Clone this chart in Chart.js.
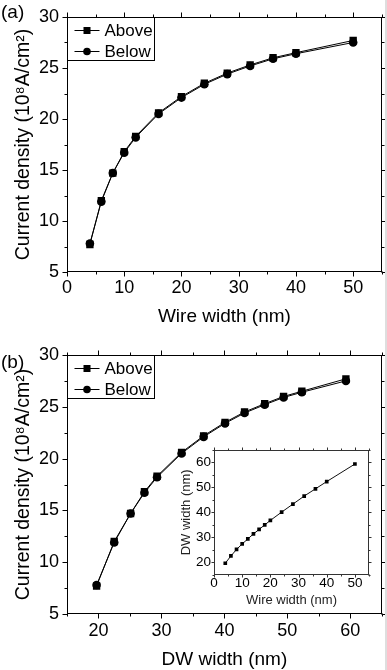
<!DOCTYPE html>
<html>
<head>
<meta charset="utf-8">
<script src="https://cdn.jsdelivr.net/npm/chart.js@4"></script>
<style>
  html, body { margin: 0; padding: 0; background: #fff; }
  #wrap { position: relative; width: 387px; height: 670px; overflow: hidden; font-family: "Liberation Sans", Arial, sans-serif; }
  .panel { position: absolute; left: 0; width: 387px; height: 335px; }
  #panelA { top: 0; }
  #panelB { top: 335px; }
  #insetBox { position: absolute; left: 172px; top: 440px; width: 205px; height: 170px; }
  .tag { position: absolute; left: 1px; font-size: 19px; line-height: 19px; color: #000; }
  #edge { position: absolute; right: 0; top: 0; width: 2px; height: 670px; background: #dedede; }
</style>
</head>
<body>
<div id="wrap">
  <div class="panel" id="panelA"><canvas id="chartA"></canvas></div>
  <div class="panel" id="panelB"><canvas id="chartB"></canvas></div>
  <div id="insetBox"><canvas id="chartInset"></canvas></div>
  <div class="tag" style="top:2px">(a)</div>
  <div class="tag" style="top:352px">(b)</div>
  <div id="edge"></div>
</div>
<script>
// wire width (nm) and matching domain-wall width (nm)
const wireWidth = [4, 6, 8, 10, 12, 16, 20, 24, 28, 32, 36, 40, 50];
const dwWidth = [19.7, 22.5, 25.1, 27.3, 29.3, 33.2, 36.7, 40.1, 43.2, 46.4, 49.4, 52.3, 59.3];
// critical current density (10^8 A/cm^2)
const jAbove = [7.7, 12.0, 14.7, 16.8, 18.3, 20.6, 22.2, 23.5, 24.5, 25.3, 26.0, 26.5, 27.7];
const jBelow = [7.8, 11.9, 14.7, 16.7, 18.2, 20.5, 22.1, 23.4, 24.4, 25.2, 25.9, 26.4, 27.5];
// inset: DW width vs wire width
const insetWire = [4, 6, 8, 10, 12, 14, 16, 18, 20, 24, 28, 32, 36, 40, 50];
const insetDW = [19.7, 22.6, 25.2, 27.4, 29.4, 31.4, 33.2, 35.0, 36.8, 40.1, 43.3, 46.5, 49.4, 52.3, 59.3];
// tick labels
const xTicksA = [0, 10, 20, 30, 40, 50];
const xTicksB = [20, 30, 40, 50, 60];
const yTicksJ = [5, 10, 15, 20, 25, 30];
const insetXTicks = [0, 10, 20, 30, 40, 50];
const insetYTicks = [20, 30, 40, 50, 60];

const FONT = '"Liberation Sans", Arial, sans-serif';

function pts(xs, ys) {
    return xs.map((x, i) => ({ x: x, y: ys[i] }));
}

function minorsOf(scale) {
    const majors = scale.ticks.map(t => t.value);
    const step = majors[1] - majors[0];
    const out = [];
    for (let v = majors[0] - step / 2; v <= scale.max + 1e-9; v += step) {
        if (v >= scale.min - 1e-9) out.push(v);
    }
    return out;
}

// frame box, outward ticks on all four sides, and the boxed legend
const boxTicks = {
    id: 'boxTicks',
    afterDraw(chart, args, opts) {
        const { ctx, chartArea: a, scales } = chart;
        const sx = scales.x, sy = scales.y;
        const L = Math.round(a.left) + 0.5, R = Math.round(a.right) - 0.5;
        const T = Math.round(a.top) + 0.5, B = Math.round(a.bottom) - 0.5;
        ctx.save();
        ctx.strokeStyle = opts.color;
        ctx.lineWidth = 1;
        ctx.strokeRect(L, T, R - L, B - T);
        ctx.beginPath();
        const xMarks = (vals, len) => vals.forEach(v => {
            const p = Math.round(sx.getPixelForValue(v)) + 0.5;
            ctx.moveTo(p, B); ctx.lineTo(p, B + len);
            ctx.moveTo(p, T); ctx.lineTo(p, T - len);
        });
        const yMarks = (vals, len) => vals.forEach(v => {
            const p = Math.round(sy.getPixelForValue(v)) + 0.5;
            ctx.moveTo(L, p); ctx.lineTo(L - len, p);
            ctx.moveTo(R, p); ctx.lineTo(R + len, p);
        });
        xMarks(sx.ticks.map(t => t.value), opts.major);
        xMarks(minorsOf(sx), opts.minor);
        yMarks(sy.ticks.map(t => t.value), opts.major);
        yMarks(minorsOf(sy), opts.minor);
        ctx.stroke();

        if (opts.legend) {
            const lg = opts.legend;
            const x0 = L, y0 = T;
            ctx.fillStyle = '#fff';
            ctx.fillRect(x0, y0, lg.w, lg.h);
            ctx.strokeRect(x0, y0, lg.w, lg.h);
            ctx.font = lg.fontSize + 'px ' + FONT;
            ctx.textBaseline = 'middle';
            chart.data.datasets.forEach((ds, i) => {
                const yy = y0 + lg.rows[i];
                ctx.strokeStyle = '#000';
                ctx.beginPath();
                ctx.moveTo(x0 + 7, yy); ctx.lineTo(x0 + 32, yy);
                ctx.stroke();
                ctx.fillStyle = '#000';
                if (ds.pointStyle === 'rect') {
                    ctx.fillRect(x0 + 16, yy - 3.5, 7, 7);
                } else {
                    ctx.beginPath();
                    ctx.arc(x0 + 19.5, yy, 3.8, 0, Math.PI * 2);
                    ctx.fill();
                }
                ctx.fillText(ds.label, x0 + 37, yy + 1);
            });
        }
        ctx.restore();
    }
};

function axis(min, max, values, fontSize, pad, extra) {
    return Object.assign({
        type: 'linear',
        min: min,
        max: max,
        grid: { display: false, drawTicks: false },
        border: { display: false },
        ticks: { font: { family: FONT, size: fontSize, lineHeight: 1 }, color: '#000', padding: pad, maxRotation: 0, autoSkip: false },
        afterBuildTicks: s => { s.ticks = values.map(v => ({ value: v })); }
    }, extra);
}

function mainChart(id, xs, xMin, xMax, xTicks, xTitle, xAxisH, xLabelPad, xTitlePad, top) {
    return new Chart(document.getElementById(id), {
        type: 'line',
        data: {
            datasets: [
                {
                    label: 'Above',
                    data: pts(xs, jAbove),
                    borderColor: '#000',
                    borderWidth: 1,
                    pointStyle: 'rect',
                    pointRadius: 5.2,
                    pointBackgroundColor: '#000',
                    pointBorderWidth: 0,
                    order: 1
                },
                {
                    label: 'Below',
                    data: pts(xs, jBelow),
                    borderColor: '#000',
                    borderWidth: 1,
                    pointStyle: 'circle',
                    pointRadius: 4.3,
                    pointBackgroundColor: '#000',
                    pointBorderWidth: 0,
                    order: 0
                }
            ]
        },
        options: {
            responsive: true,
            maintainAspectRatio: false,
            animation: false,
            layout: { padding: { top: top, right: 3, left: 0, bottom: 0 } },
            scales: {
                x: axis(xMin, xMax, xTicks, 18, xLabelPad, {
                    afterFit: s => { s.height = xAxisH; },
                    title: { display: true, text: xTitle, color: '#000', font: { family: FONT, size: 19, lineHeight: 1 }, padding: { top: 0, bottom: xTitlePad } }
                }),
                y: axis(5, 30, yTicksJ, 18, 8, {
                    afterFit: s => { s.width = 67; },
                    title: { display: true, text: 'Current density (10⁸A/cm²)', color: '#000', font: { family: FONT, size: 19.5, lineHeight: 1 }, padding: { top: 14, bottom: 0 } }
                })
            },
            plugins: {
                legend: { display: false },
                tooltip: { enabled: false },
                boxTicks: { color: '#000', major: 5, minor: 3, legend: { w: 87, h: 43, rows: [13, 34], fontSize: 17 } }
            }
        },
        plugins: [boxTicks]
    });
}

mainChart('chartA', wireWidth, 0, 55, xTicksA, 'Wire width (nm)', 63, 7, 9, 14);
mainChart('chartB', dwWidth, 15, 65, xTicksB, 'DW width (nm)', 56, 8.5, 0.5, 20);

new Chart(document.getElementById('chartInset'), {
    type: 'line',
    data: {
        datasets: [{
            label: 'DW width',
            data: pts(insetWire, insetDW),
            borderColor: '#111',
            borderWidth: 1,
            pointStyle: 'rect',
            pointRadius: 2.6,
            pointBackgroundColor: '#000',
            pointBorderWidth: 0
        }]
    },
    options: {
        responsive: true,
        maintainAspectRatio: false,
        animation: false,
        layout: { padding: { top: 9, right: 8, left: 0, bottom: 0 } },
        scales: {
            x: axis(0, 55, insetXTicks, 13.5, 2, {
                afterFit: s => { s.height = 35; },
                title: { display: true, text: 'Wire width (nm)', color: '#222', font: { family: FONT, size: 13, lineHeight: 1 }, padding: { top: 0, bottom: 3.5 } }
            }),
            y: axis(15, 65, insetYTicks, 13.5, 3, {
                afterFit: s => { s.width = 42; },
                title: { display: true, text: 'DW width (nm)', color: '#222', font: { family: FONT, size: 13, lineHeight: 1 }, padding: { top: 7.5, bottom: 0 } }
            })
        },
        plugins: {
            legend: { display: false },
            tooltip: { enabled: false },
            boxTicks: { color: '#333', major: 3, minor: 2, legend: null }
        }
    },
    plugins: [boxTicks]
});
</script>
</body>
</html>
